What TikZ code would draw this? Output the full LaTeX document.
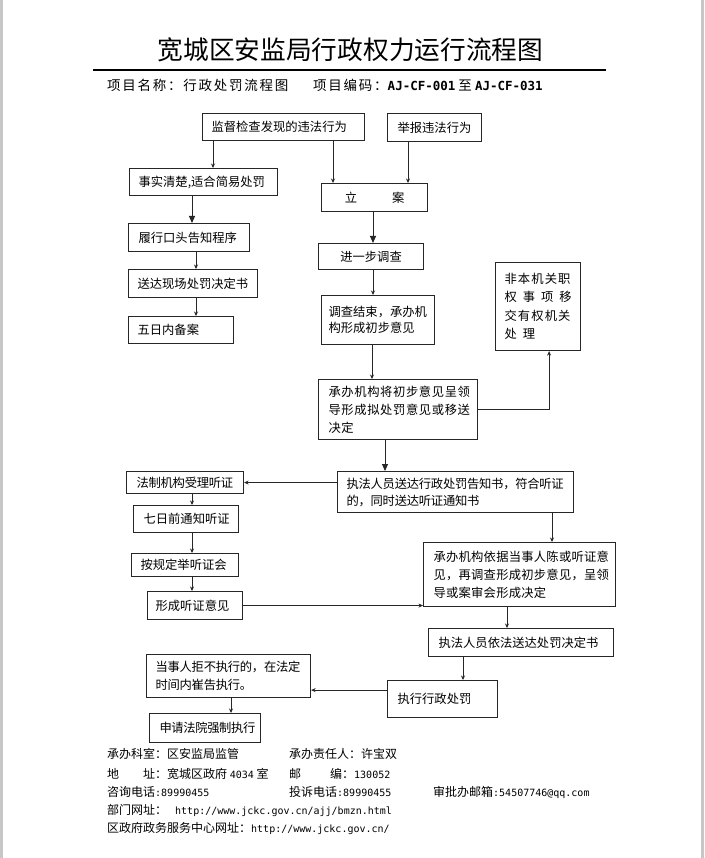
\documentclass[tikz,border=0pt]{standalone}
\usepackage{fontspec}
\setmainfont{Noto Sans CJK SC}
\newfontfamily\monof{DejaVu Sans Mono}
\usetikzlibrary{arrows.meta}
\newcommand\bxfont{\fontsize{12.3pt}{18pt}\selectfont}
\newcommand\bxfontb{\fontsize{12.3pt}{16pt}\selectfont}
\newcommand\ftfont{\fontsize{12pt}{14pt}\selectfont}
\newcommand\fmono{\monof\fontsize{10pt}{14pt}\selectfont}
\newcommand\submono{\monof\bfseries\fontsize{12.5pt}{14pt}\selectfont}
\begin{document}
\begin{tikzpicture}[x=1pt,y=-1pt,
  box/.style={draw=black!85, line width=1.1pt, anchor=north west, inner xsep=9pt, inner ysep=0pt, align=left, font=\bxfont},
  cbox/.style={box, align=center},
  sarr/.style={draw=black!85, line width=0.9pt, -{Stealth[length=4.5pt,width=4pt]}},
  barr/.style={draw=black!85, line width=0.9pt, -{Triangle[length=7pt,width=6pt]}},
  txt/.style={anchor=base west, inner sep=0pt, font=\ftfont},
]
\useasboundingbox (0,0) rectangle (704,858);
\fill[white] (0,0) rectangle (704,858);
\fill[black!22] (0,0) rectangle (2.5,858);
\fill[black!22] (700.5,0) rectangle (704,858);

% title and header
\node[anchor=base, inner sep=0pt, font=\fontsize{25.7pt}{30pt}\selectfont] (title) at (350.5,59.3) {宽城区安监局行政权力运行流程图};
\draw[line width=1.2pt] (93,70) -- (606,70);
\node[anchor=base west, inner sep=0pt, font=\fontsize{13.5pt}{16pt}\selectfont] (sub1) at (107,91) {\addfontfeature{LetterSpace=13}项目名称：行政处罚流程图};
\node[anchor=base west, inner sep=0pt, font=\fontsize{13.5pt}{16pt}\selectfont] (sub2) at (313,91) {{\addfontfeature{LetterSpace=13}项目编码：}{\submono AJ-CF-001} 至 {\submono AJ-CF-031}};

% boxes
\node[box, text width=144pt, minimum height=27pt] (n1) at (202,113) {监督检查发现的违法行为};
\node[box, inner xsep=10pt, text width=74pt, minimum height=28pt] (n2) at (387,113) {举报违法行为};
\node[box, text width=130pt, minimum height=27pt] (n3) at (129,168) {事实清楚,适合简易处罚};
\node[cbox, text width=88pt, minimum height=28pt] (n4) at (321,183) {立\hspace{35pt}案};
\node[box, inner xsep=10pt, text width=101pt, minimum height=28pt] (n5) at (128,223) {履行口头告知程序};
\node[cbox, text width=87pt, minimum height=26pt] (n6) at (318,243) {进一步调查};
\node[box, text width=111pt, minimum height=28pt] (n7) at (128,269) {送达现场处罚决定书};
\node[box, text width=87pt, minimum height=27pt] (n8) at (128,316) {五日内备案};
\node[box, inner xsep=7pt, text width=99pt, minimum height=49pt, font=\bxfontb] (n9) at (321,295) {调查结束，承办机\\构形成初步意见};
\node[box, text width=67pt, minimum height=88pt, font=\fontsize{12.3pt}{18.5pt}\selectfont] (n10) at (495,262) {{\addfontfeature{LetterSpace=9}非本机关职}\\\makebox[67pt][l]{权\hfill 事\hfill 项\hfill 移}\\{\addfontfeature{LetterSpace=9}交有权机关}\\处\hspace{5.9pt}理};
\node[box, inner xsep=10pt, text width=139pt, minimum height=60pt] (n11) at (318,379) {\addfontfeature{LetterSpace=5}承办机构将初步意见呈领\\导形成拟处罚意见或移送\\决定};
\node[box, inner xsep=10pt, text width=97pt, minimum height=22pt] (n12) at (126,471) {\addfontfeature{LetterSpace=-2}法制机构受理听证};
\node[box, text width=218pt, minimum height=41pt, font=\fontsize{12.3pt}{17pt}\selectfont] (n13) at (337,471) {\addfontfeature{LetterSpace=-2}执法人员送达行政处罚告知书，符合听证\\的，同时送达听证通知书};
\node[box, inner xsep=10pt, text width=85pt, minimum height=27pt] (n14) at (133,505) {七日前通知听证};
\node[box, text width=89pt, minimum height=23pt] (n15) at (131,553) {按规定举听证会};
\node[box, inner xsep=8pt, text width=79pt, minimum height=28pt] (n16) at (147,591) {形成听证意见};
\node[box, inner xsep=10pt, text width=172pt, minimum height=64pt] (n17) at (423,542) {\addfontfeature{LetterSpace=2}承办机构依据当事人陈或听证意\\见，再调查形成初步意见，呈领\\导或案审会形成决定};
\node[box, inner xsep=10pt, text width=165pt, minimum height=28pt] (n18) at (428,628) {执法人员依法送达处罚决定书};
\node[box, text width=146pt, minimum height=43pt] (n19) at (146,654) {\addfontfeature{LetterSpace=-2}当事人拒不执行的，在法定\\时间内崔告执行。};
\node[box, inner xsep=10pt, text width=90pt, minimum height=37pt] (n20) at (387,680) {执行行政处罚};
\node[box, inner xsep=10pt, text width=91pt, minimum height=29pt] (n21) at (149,713) {\addfontfeature{LetterSpace=-3}申请法院强制执行};

% connectors
\path (n1.south west) ++(11,0) coordinate (p1);
\draw[sarr] (p1) -- (p1 |- n3.north);
\path (n1.south west) ++(131,0) coordinate (p2);
\draw[sarr] (p2) -- (p2 |- n4.north);
\path (n2.south west) ++(21,0) coordinate (p3);
\draw[sarr] (p3) -- (p3 |- n4.north);
\path (n3.south west) ++(63,0) coordinate (p4);
\draw[barr] (p4) -- (p4 |- n5.north);
\path (n5.south west) ++(68,0) coordinate (p5);
\draw[sarr] (p5) -- (p5 |- n7.north);
\path (n7.south west) ++(68,0) coordinate (p6);
\draw[sarr] (p6) -- (p6 |- n8.north);
\path (n4.south west) ++(52,0) coordinate (p7);
\draw[barr] (p7) -- (p7 |- n6.north);
\path (n6.south west) ++(55,0) coordinate (p8);
\draw[sarr] (p8) -- (p8 |- n9.north);
\path (n9.south west) ++(51,0) coordinate (p9);
\draw[sarr] (p9) -- (p9 |- n11.north);
\path (n10.south east) ++(-32,0) coordinate (p10);
\draw[sarr] (n11.east) -| (p10);
\path (n11.south west) ++(67,0) coordinate (p11);
\draw[barr] (p11) -- (p11 |- n13.north);
\draw[sarr] (n13.west |- n12.east) -- (n12.east);
\path (n13.south west) ++(215,0) coordinate (p13);
\draw[sarr] (p13) -- (p13 |- n17.north);
\path (n12.south west) ++(66,0) coordinate (p12);
\draw[sarr] (p12) -- (p12 |- n14.north);
\path (n14.south west) ++(59,0) coordinate (p14);
\draw[sarr] (p14) -- (p14 |- n15.north);
\path (n15.south west) ++(61,0) coordinate (p15);
\draw[sarr] (p15) -- (p15 |- n16.north);
\draw[sarr] (n16.east) -- (n16.east -| n17.west);
\path (n17.south west) ++(84,0) coordinate (p17);
\draw[sarr] (p17) -- (p17 |- n18.north);
\path (n18.south west) ++(35,0) coordinate (p18);
\draw[sarr] (p18) -- (p18 |- n20.north);
\path (n19.south east) ++(0,-8) coordinate (p19);
\draw[sarr] (p19 -| n20.west) -- (p19);
\path (n19.south west) ++(85,0) coordinate (p20);
\draw[sarr] (p20) -- (p20 |- n21.north);

% footer
\node[txt] (f1) at (107,758.6) {承办科室：区安监局监管};
\node[txt] (f2) at (289,758.6) {承办责任人：许宝双};
\node[txt] (f3) at (107,778.6) {地\hspace{24pt}址：宽城区政府 {\fmono 4034} 室};
\node[txt] (f4) at (289,778.6) {邮\hspace{29pt}编：{\fmono 130052}};
\node[txt] (f5) at (107,796.6) {咨询电话{\fmono :89990455}};
\node[txt] (f6) at (289,796.6) {投诉电话{\fmono :89990455}};
\node[txt] (f7) at (433,796.6) {审批办邮箱{\fmono :54507746@qq.com}};
\node[txt] (f8) at (107,814.6) {部门网址：\hspace{8pt}{\fmono http://www.jckc.gov.cn/ajj/bmzn.html}};
\node[txt] (f9) at (107,832.6) {区政府政务服务中心网址：{\fmono http://www.jckc.gov.cn/}};
\end{tikzpicture}
\end{document}
